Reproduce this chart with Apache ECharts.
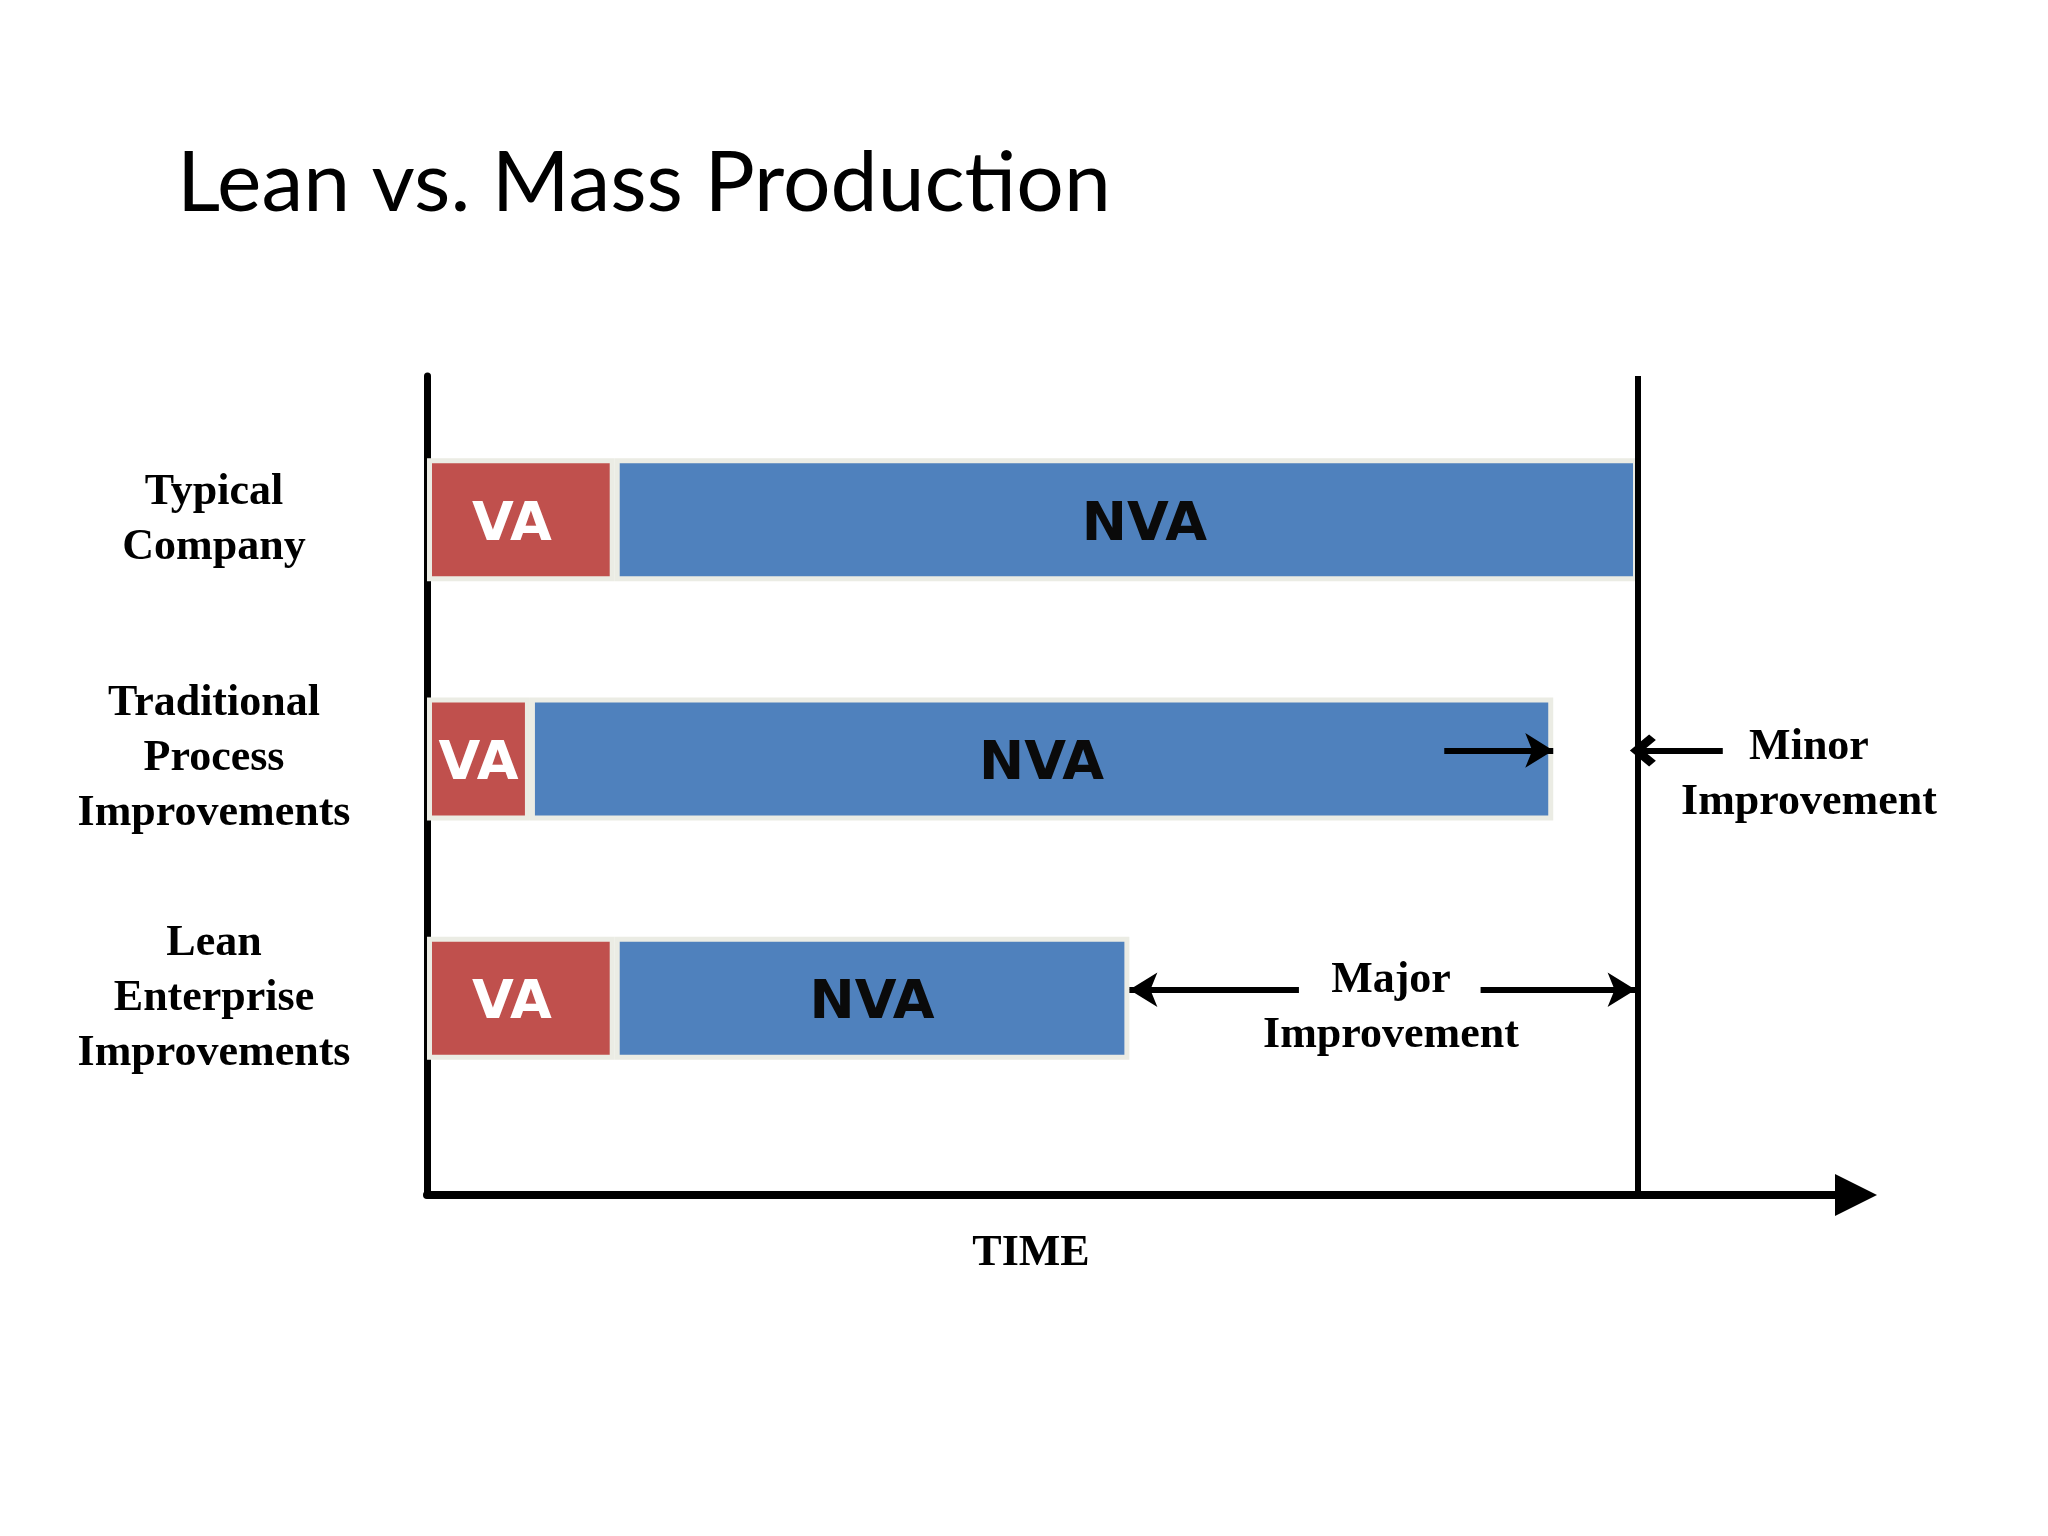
<!DOCTYPE html>
<html>
<head>
<meta charset="utf-8">
<title>Lean vs. Mass Production</title>
<script src="https://cdn.jsdelivr.net/npm/echarts@6/dist/echarts.min.js"></script>
<style>
  html, body { margin: 0; padding: 0; background: #fff; }
  #chart { width: 2048px; height: 1536px; }
</style>
</head>
<body>
<div id="chart"></div>
<script>
  // categories (top to bottom) and the two stacked parts of each bar
  var categories = ['Typical\nCompany', 'Traditional\nProcess\nImprovements', 'Lean\nEnterprise\nImprovements'];
  var vaData = [15.5, 8.5, 15.5];
  var nvaData = [84.5, 84.5, 42.5];

  // time axis range and the reference line of the typical company
  var timeMax = 118;
  var typicalEnd = 100;

  // annotation arrows: [from, to] in time units, drawn a little above the bar centre
  var traditionalArrow = [84, 93];
  var minorArrow = [107, 100.4];
  var majorLeftArrow = [72, 58];
  var majorRightArrow = [87, 99.8];
  var traditionalArrowRow = 0.964;
  var leanArrowRow = 1.964;

  // label nudges (px) inside the bars
  var vaLabelOffsets = [[-9, 6], [0, 6], [-9, 6]];
  var nvaLabelOffsets = [[18, 6], [0, 6], [0, 6]];

  var serifFont = '"Liberation Serif", "Times New Roman", serif';
  var chevron = 'path://M10,0 L20,10 L16.5,13.5 L10,7 L3.5,13.5 L0,10 Z';

  function arrowLine(range, row, endSymbol, endSize) {
    return [
      { coord: [range[0], row], symbol: 'none' },
      { coord: [range[1], row], symbol: endSymbol, symbolSize: endSize }
    ];
  }

  function withLabelOffset(values, offsets) {
    return values.map(function (v, i) {
      return { value: v, label: { offset: offsets[i] } };
    });
  }

  var chart = echarts.init(document.getElementById('chart'));
  chart.setOption({
    backgroundColor: '#ffffff',
    animation: false,
    title: {
      text: 'Lean vs. Mass Production',
      left: 172,
      top: 137,
      textStyle: { fontFamily: 'Lato', fontSize: 84, fontWeight: 'normal', color: '#000' }
    },
    grid: [
      // bars
      { left: 427, right: 192, top: 400, bottom: 418 },
      // frame with the time arrow
      { left: 427, right: 192, top: 376, bottom: 341 }
    ],
    xAxis: [
      { gridIndex: 0, type: 'value', min: 0, max: timeMax, show: false },
      {
        gridIndex: 1, type: 'value', min: 0, max: timeMax,
        axisLine: {
          show: true, symbol: ['none', 'triangle'], symbolSize: [42, 42], symbolOffset: [0, 0],
          lineStyle: { color: '#000', width: 8 }
        },
        axisTick: { show: false }, axisLabel: { show: false }, splitLine: { show: false }
      }
    ],
    yAxis: [
      {
        gridIndex: 0, type: 'category', inverse: true, data: categories,
        axisLine: { show: false }, axisTick: { show: false },
        axisLabel: {
          margin: 213, align: 'center',
          fontFamily: serifFont, fontWeight: 'bold', fontSize: 44, lineHeight: 55, color: '#000'
        }
      },
      {
        gridIndex: 1, type: 'value', min: 0, max: 1,
        axisLine: { show: true, lineStyle: { color: '#000', width: 7 } },
        axisTick: { show: false }, axisLabel: { show: false }, splitLine: { show: false }
      },
      // same rows as the category axis, as numbers, for the arrows
      { gridIndex: 0, type: 'value', min: -0.5, max: 2.5, inverse: true, show: false }
    ],
    series: [
      {
        name: 'VA', type: 'bar', stack: 'time', barWidth: 123,
        xAxisIndex: 0, yAxisIndex: 0,
        data: withLabelOffset(vaData, vaLabelOffsets),
        itemStyle: { color: '#C0504D', borderColor: '#EBECE4', borderWidth: 5 },
        label: {
          show: true, position: 'inside', formatter: 'VA',
          fontFamily: '"DejaVu Sans"', fontWeight: 'bold', fontSize: 54, color: '#fff'
        }
      },
      {
        name: 'NVA', type: 'bar', stack: 'time', barWidth: 123,
        xAxisIndex: 0, yAxisIndex: 0,
        data: withLabelOffset(nvaData, nvaLabelOffsets),
        itemStyle: { color: '#4F81BD', borderColor: '#EBECE4', borderWidth: 5 },
        label: {
          show: true, position: 'inside', formatter: 'NVA',
          fontFamily: '"DejaVu Sans"', fontWeight: 'bold', fontSize: 54, color: '#0a0a0a'
        }
      },
      {
        // improvement arrows
        type: 'line', xAxisIndex: 0, yAxisIndex: 2, data: [],
        markLine: {
          silent: true,
          label: { show: false },
          lineStyle: { color: '#000', width: 6, type: 'solid' },
          data: [
            arrowLine(traditionalArrow, traditionalArrowRow, 'arrow', [26, 28]),
            arrowLine(minorArrow, traditionalArrowRow, chevron, [32, 26]),
            arrowLine(majorLeftArrow, leanArrowRow, 'arrow', [26, 28]),
            arrowLine(majorRightArrow, leanArrowRow, 'arrow', [26, 28])
          ]
        }
      },
      {
        // typical company end line
        type: 'line', xAxisIndex: 1, yAxisIndex: 1, data: [],
        markLine: {
          silent: true, symbol: 'none', label: { show: false },
          lineStyle: { color: '#000', width: 6, type: 'solid' },
          data: [{ xAxis: typicalEnd }]
        }
      }
    ],
    graphic: [
      {
        type: 'text', x: 1809, y: 775,
        style: { text: 'Minor\nImprovement', fontFamily: serifFont, fontWeight: 'bold', fontSize: 44, lineHeight: 55, fill: '#000', align: 'center', verticalAlign: 'middle' }
      },
      {
        type: 'text', x: 1391, y: 1008,
        style: { text: 'Major\nImprovement', fontFamily: serifFont, fontWeight: 'bold', fontSize: 44, lineHeight: 55, fill: '#000', align: 'center', verticalAlign: 'middle' }
      },
      {
        type: 'text', x: 1031, y: 1254,
        style: { text: 'TIME', fontFamily: serifFont, fontWeight: 'bold', fontSize: 44, fill: '#000', align: 'center', verticalAlign: 'middle' }
      }
    ]
  });
</script>
</body>
</html>
